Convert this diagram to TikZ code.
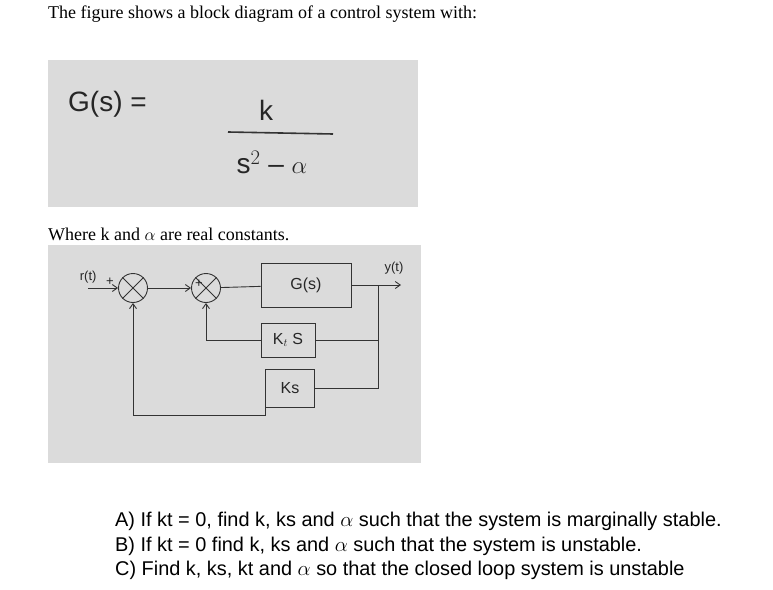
\documentclass[tikz,border=0pt]{standalone}
\usepackage{fontspec}
\setmainfont{Liberation Serif}
\newfontfamily\qfont{Liberation Sans}
\usetikzlibrary{arrows.meta}
\begin{document}
\begin{tikzpicture}[x=1pt,y=-1pt,
  panel/.style={fill=black!14,draw=none},
  hw/.style={draw=black!80,line width=0.9pt},
  blk/.style={hw,minimum width=#1,minimum height=34pt,inner sep=0pt},
  sumj/.style={hw,circle,minimum size=29pt,inner sep=0pt},
  arr/.style={hw,-{Straight Barb[length=5pt,width=7pt]}},
  lbl/.style={font=\qfont\fontsize{13}{13}\selectfont,text=black!85},
  big/.style={font=\qfont\fontsize{28}{30}\selectfont,text=black!85,inner sep=0pt},
  qt/.style={font=\qfont\fontsize{19.9}{23}\selectfont,anchor=base west,inner sep=0pt}]
\useasboundingbox (0,0) rectangle (773,589);
\node[anchor=base west,inner sep=0pt,font=\fontsize{18}{18}\selectfont] (title) at (48,18) {The figure shows a block diagram of a control system with:};
\fill[panel] (48,60) rectangle (418,207);
\node[big,anchor=west] (geq) at (68,104) {G(s) =};
\node[big] (num) at (266,110) {k};
\draw[hw,line width=1.6pt] (228,132) -- (333,134);
\node[big] (den) at (272,162) {s$^2$ – $\alpha$};
\node[anchor=base west,inner sep=0pt,font=\fontsize{18}{18}\selectfont] (where) at (48,240) {Where k and $\alpha$ are real constants.};
\fill[panel] (48,245) rectangle (421,463);
\node[sumj] (s1) at (133,288) {};
\node[sumj] (s2) at (206,288) {};
\foreach \s in {s1,s2}{\draw[hw] (\s.north west)--(\s.south east) (\s.north east)--(\s.south west);}
\node[blk=90pt,minimum height=44pt,lbl] (g) at (306,285) {\fontsize{16}{16}\selectfont G(s)};
\node[blk=54pt,lbl] (kt) at (288,340) {\fontsize{16}{16}\selectfont K$_t$ S};
\node[blk=49pt,minimum height=38pt,lbl] (ks) at (290,388) {\fontsize{16}{16}\selectfont Ks};
\coordinate (in) at (88,288);
\coordinate (out) at (401,285);
\coordinate (br) at (378,285);
\node[lbl,anchor=south east] (r) at (100,287) {r(t)};
\node[lbl] (p1) at (110,282) {+};
\node[lbl] (p2) at (199,284) {+};
\node[lbl,anchor=south] (y) at (394,278) {y(t)};
\draw[arr] (in) -- (s1);
\draw[arr] (s1) -- (s2);
\draw[hw] (s2) -- (g);
\draw[arr] (g.east) -- (out);
\draw[hw] (br) -- (br |- ks.east) -- (ks.east);
\draw[hw] (br |- kt.east) -- (kt.east);
\draw[arr] (kt.west) -| (s2.south);
\draw[arr] (ks.west) |- ++(0,27) -| (s1.south);
\node[qt] (qa) at (115,526) {A) If kt = 0, find k, ks and $\alpha$ such that the system is marginally stable.};
\node[qt] (qb) at (115,551) {B) If kt = 0 find k, ks and $\alpha$ such that the system is unstable.};
\node[qt] (qc) at (115,575) {C) Find k, ks, kt and $\alpha$ so that the closed loop system is unstable};
\end{tikzpicture}
\end{document}
